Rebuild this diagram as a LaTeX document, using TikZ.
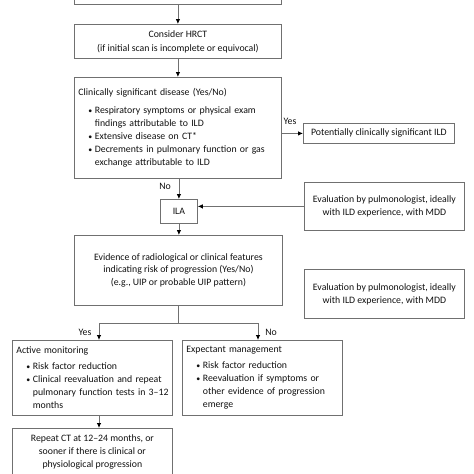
\documentclass[tikz,border=0pt]{standalone}
\usepackage{fontspec}
\setmainfont{Carlito}
\usetikzlibrary{arrows.meta}
\definecolor{linegray}{HTML}{707070}
\definecolor{textc}{HTML}{111111}
\newcommand\bitem[1]{\par\noindent\hspace*{10pt}\makebox[6.5pt][l]{\raisebox{0.3pt}{\scalebox{0.8}{•}}}\mbox{#1}}
\newcommand\bcont[1]{\par\noindent\hspace*{16.5pt}\mbox{#1}}
\tikzset{
  box/.style={draw=linegray, line width=0.8pt, anchor=north west, inner sep=4pt,
    font=\fontsize{9.8}{13}\selectfont, text=textc},
  cbox/.style={box, align=center},
  lbox/.style={box, align=left},
  arr/.style={draw=linegray, line width=0.8pt, -{Latex[length=5pt,width=4.5pt,color=black]}},
  conn/.style={draw=linegray, line width=0.8pt},
  lbl/.style={font=\fontsize{9.8}{11}\selectfont, text=textc, inner sep=1pt},
}
\begin{document}
\begin{tikzpicture}[x=1pt,y=-1pt]
\useasboundingbox (0,0) rectangle (474,474);
\clip (0,0) rectangle (474,474);
\fill[white] (0,0) rectangle (474,474);

% top box (cut off)
\node[box, anchor=south west, minimum width=207pt, minimum height=40pt] (top) at (74,5) {};

\node[cbox, minimum width=207pt, minimum height=34pt, font=\fontsize{9.8}{14}\selectfont] (hrct) at (74,24)
  {Consider HRCT\\(if initial scan is incomplete or equivocal)};

\node[lbox, minimum width=207pt, minimum height=101pt, text width=199pt] (clin) at (74,77)
  {Clinically significant disease (Yes/No)\par\vspace{5pt}%
   \bitem{Respiratory symptoms or physical exam}%
   \bcont{findings attributable to ILD}%
   \bitem{Extensive disease on CT*}%
   \bitem{Decrements in pulmonary function or gas}%
   \bcont{exchange attributable to ILD}};

\node[cbox, minimum width=151pt, minimum height=20pt] (pot) at (303,123)
  {Potentially clinically significant ILD};

\node[cbox, minimum width=37pt, minimum height=24pt, inner sep=2pt] (ila) at (160,199) {ILA};

\node[cbox, minimum width=160pt, minimum height=48pt] (eval1) at (304,182)
  {Evaluation by pulmonologist, ideally\\with ILD experience, with MDD};

\node[cbox, minimum width=208pt, minimum height=70pt, font=\fontsize{9.8}{12.5}\selectfont] (evid) at (74,235)
  {Evidence of radiological or clinical features\\indicating risk of progression (Yes/No)\\(e.g., UIP or probable UIP pattern)};

\node[cbox, minimum width=160pt, minimum height=49pt] (eval2) at (304,269)
  {Evaluation by pulmonologist, ideally\\with ILD experience, with MDD};

\node[lbox, minimum width=160pt, minimum height=75pt, text width=152pt] (act) at (12,340)
  {Active monitoring\par\vspace{3pt}%
   \bitem{Risk factor reduction}%
   \bitem{Clinical reevaluation and repeat}%
   \bcont{pulmonary function tests in 3--12}%
   \bcont{months}};

\node[lbox, minimum width=160pt, minimum height=75pt, text width=152pt] (exp) at (182,340)
  {Expectant management\par\vspace{3pt}%
   \bitem{Risk factor reduction}%
   \bitem{Reevaluation if symptoms or}%
   \bcont{other evidence of progression}%
   \bcont{emerge}};

\node[cbox, minimum width=160pt, minimum height=48pt] (rep) at (12,428)
  {Repeat CT at 12--24 months, or\\sooner if there is clinical or\\physiological progression};

% connectors
\draw[arr] (top.south -| hrct.north) -- (hrct.north);
\draw[arr] (hrct.south) -- (clin.north);
\draw[arr] (clin.east |- pot.west) -- (pot.west);
\node[lbl] (yes1) at (290,121) {Yes};
\draw[arr] (ila.north |- clin.south) -- (ila.north);
\node[lbl] (no1) at (165,186) {No};
\draw[arr] (eval1.west) -- (eval1.west -| ila.east);
\draw[arr] (ila.south) -- (ila.south |- evid.north);

\coordinate (brL) at (99,323);
\coordinate (brR) at (258,323);
\draw[conn] (evid.south) -- (evid.south |- brL);
\draw[conn] (brL) -- (brR);
\draw[arr] (brL) -- (brL |- act.north);
\draw[arr] (brR) -- (brR |- exp.north);
\node[lbl] (yes2) at (85,332) {Yes};
\node[lbl] (no2) at (271,332) {No};
\draw[arr] (brL |- act.south) -- (brL |- rep.north);
\end{tikzpicture}
\end{document}
